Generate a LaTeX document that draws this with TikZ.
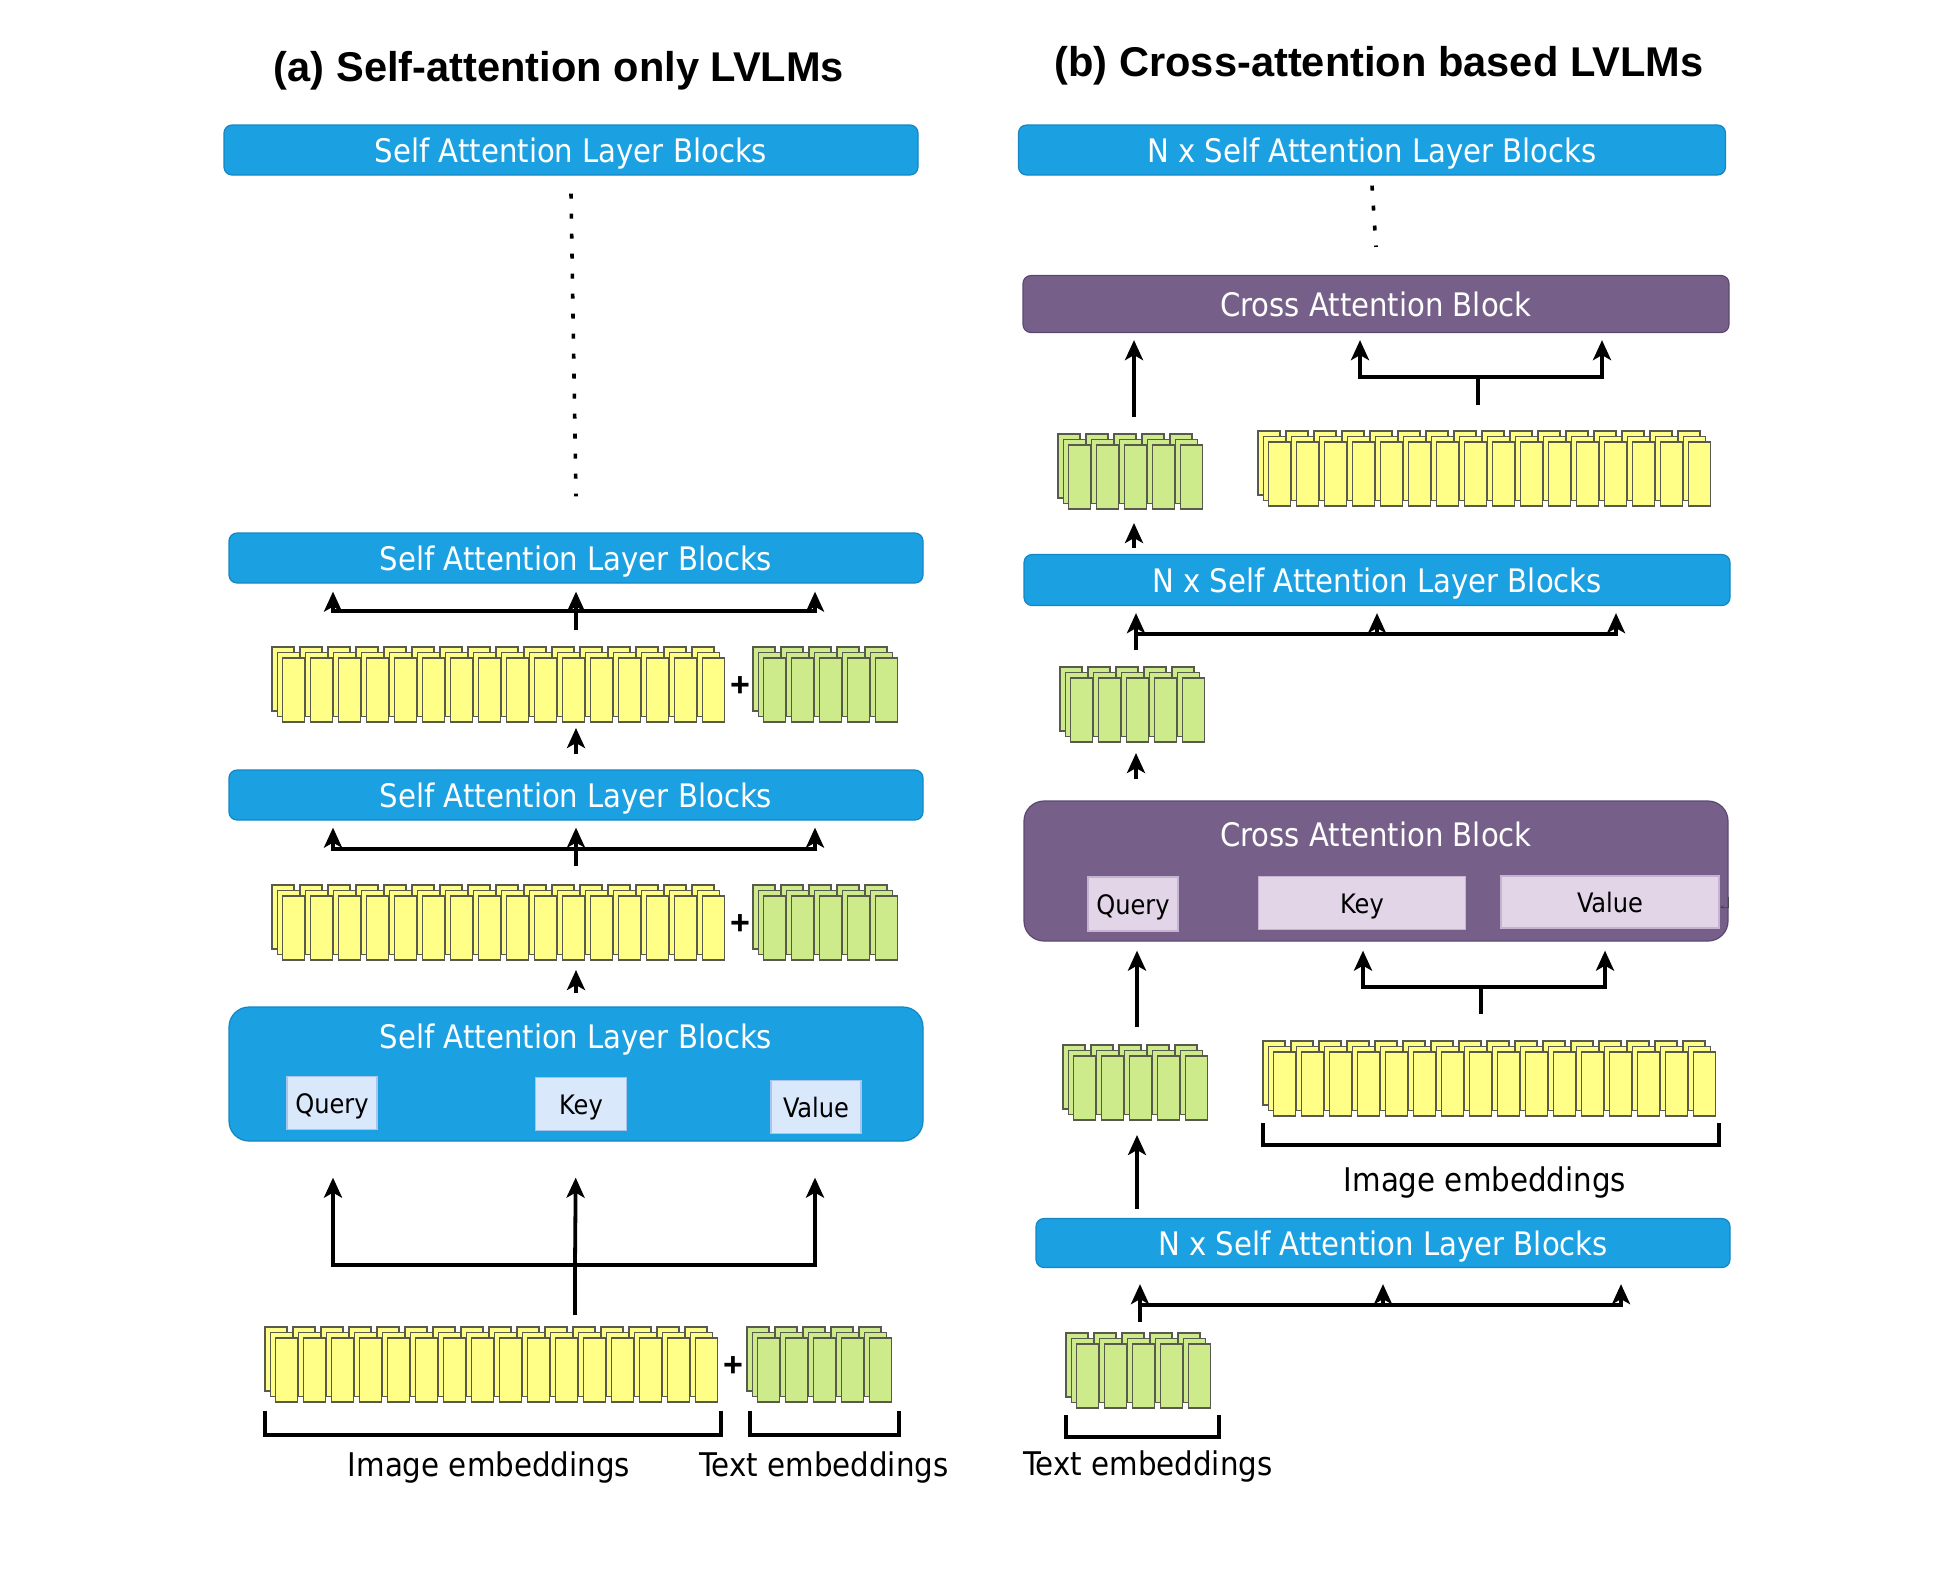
\documentclass[tikz,border=0pt]{standalone}
\usepackage{fontspec}
\setmainfont{DejaVu Sans Condensed}
\newfontfamily\titlefont{Liberation Sans}
\usetikzlibrary{arrows.meta}

\definecolor{sablue}{HTML}{1BA1E2}
\definecolor{sablueline}{HTML}{1486C4}
\definecolor{capurple}{HTML}{76608A}
\definecolor{capurpleline}{HTML}{5B4870}
\definecolor{qkvblue}{HTML}{DAE8FC}
\definecolor{qkvblueline}{HTML}{A9C4EB}
\definecolor{qkvpurple}{HTML}{E1D5E7}
\definecolor{qkvpurpleline}{HTML}{C5B3D1}
\definecolor{tokyellow}{HTML}{FFFF88}
\definecolor{tokgreen}{HTML}{CDEB8B}
\definecolor{tokline}{HTML}{585A4E}

\tikzset{
  sablock/.style={fill=sablue, draw=sablueline, line width=0.6pt, rounded corners=4pt,
    text=white, font=\fontsize{16.2}{19}\selectfont, inner sep=0pt,
    text height=12.4pt, text depth=0pt},
  cablock/.style={sablock, fill=capurple, draw=capurpleline},
  bigblock/.style={rounded corners=10pt},
  blocktext/.style={text=white, font=\fontsize{16.2}{19}\selectfont, inner sep=0pt,
    text height=12.4pt, text depth=0pt},
  qkvbox/.style={fill=qkvblue, draw=qkvblueline, line width=0.6pt, inner sep=0pt,
    font=\fontsize{13.4}{16}\selectfont, minimum height=26.5pt,
    text height=10.2pt, text depth=0pt},
  qkvpbox/.style={qkvbox, fill=qkvpurple, draw=qkvpurpleline},
  stack/.style={inner sep=0pt, outer sep=0pt, minimum height=37.5pt, anchor=north west},
  imgstack/.style={stack, minimum width=226.3pt},
  txtstack/.style={stack, minimum width=72.3pt},
  token/.style={draw=tokline, line width=0.55pt},
  flow/.style={line width=1.9pt, black},
  arrow/.style={flow, -{Stealth[length=10pt,width=9pt,inset=2.5pt]}},
  brace/.style={line width=1.9pt, black},
  dotline/.style={line width=1.8pt, dash pattern=on 2.5pt off 7.5pt},
  plus/.style={font=\titlefont\bfseries\fontsize{17}{19}\selectfont, inner sep=0pt},
  embtext/.style={font=\fontsize{16.3}{19}\selectfont, inner sep=0pt},
  title/.style={font=\titlefont\bfseries\fontsize{20.8}{24}\selectfont, inner sep=0pt},
}

% one row of embedding tokens: three layers per token
\newcommand{\embstack}[3]{%
  \begin{scope}[shift={(#1.north west)}]
    \foreach \layer in {0,1,2} {
      \foreach \k in {1,...,#2} {
        \draw[token, fill=#3] ({28*(\k-1)+5.3*\layer}, {5.5*\layer}) rectangle ++(22,64);
      }
    }
  \end{scope}%
}

\begin{document}
\begin{tikzpicture}[x=0.5pt,y=-0.5pt]
    \useasboundingbox (0,0) rectangle (1948,1592);

    % ---------------- (a) self-attention only ----------------
    \node[title] (titleA) at (559,71) {(a) Self-attention only LVLMs};

    \node[sablock, minimum width=347pt, minimum height=25pt] (saA1) at (571,150) {Self Attention Layer Blocks};
    \node[sablock, minimum width=347pt, minimum height=25pt] (saA2) at (576,558) {Self Attention Layer Blocks};
    \node[sablock, minimum width=347pt, minimum height=25pt] (saA3) at (576,795) {Self Attention Layer Blocks};
    \node[sablock, bigblock, minimum width=347pt, minimum height=67pt] (saA4) at (576,1074) {};
    \node[blocktext] (saA4t) at (576,1036) {Self Attention Layer Blocks};
    \node[qkvbox, minimum width=45pt] (qA) at (332,1103) {Query};
    \node[qkvbox, minimum width=45.5pt] (kA) at (581,1104) {Key};
    \node[qkvbox, minimum width=45pt] (vA) at (816,1107) {Value};

    \draw[dotline] ([yshift=-9pt]saA1.south) -- ([yshift=18pt]saA2.north);

    \coordinate (colAq) at (333,0);
    \coordinate (colAk) at (576,0);
    \coordinate (colAv) at (815,0);

    % rows of embeddings
    \node[imgstack] (imgA1) at (272,647) {};
    \node[txtstack] (txtA1) at (753,647) {};
    \node[plus] (plusA1) at (740,687) {+};
    \embstack{imgA1}{16}{tokyellow}
    \embstack{txtA1}{5}{tokgreen}

    \node[imgstack] (imgA2) at (272,885) {};
    \node[txtstack] (txtA2) at (753,885) {};
    \node[plus] (plusA2) at (740,925) {+};
    \embstack{imgA2}{16}{tokyellow}
    \embstack{txtA2}{5}{tokgreen}

    \node[imgstack] (imgA3) at (265,1327) {};
    \node[txtstack] (txtA3) at (747,1327) {};
    \node[plus] (plusA3) at (733,1367) {+};
    \embstack{imgA3}{16}{tokyellow}
    \embstack{txtA3}{5}{tokgreen}

    % branch into saA2
    \coordinate (hubA1) at (576,611);
    \coordinate (stemA1) at (576,630);
    \draw[flow] (stemA1) -- (hubA1);
    \draw[arrow, shorten >=4pt] (hubA1 -| colAv) -- (hubA1 -| colAq) -- (saA2.south -| colAq);
    \draw[arrow, shorten >=4pt] (hubA1 -| colAq) -- (hubA1 -| colAv) -- (saA2.south -| colAv);
    \draw[arrow, shorten >=4pt] (hubA1) -- (saA2.south -| colAk);
    \draw[arrow, shorten <=7.5pt, shorten >=3pt] (saA3.north) -- (saA3.north |- imgA1.south);

    % branch into saA3
    \coordinate (hubA2) at (576,849);
    \coordinate (stemA2) at (576,866);
    \draw[flow] (stemA2) -- (hubA2);
    \draw[arrow, shorten >=3.5pt] (hubA2 -| colAv) -- (hubA2 -| colAq) -- (saA3.south -| colAq);
    \draw[arrow, shorten >=3.5pt] (hubA2 -| colAq) -- (hubA2 -| colAv) -- (saA3.south -| colAv);
    \draw[arrow, shorten >=3.5pt] (hubA2) -- (saA3.south -| colAk);
    \draw[arrow, shorten <=6.5pt, shorten >=5pt] (saA4.north) -- (saA4.north |- imgA2.south);

    % branch into saA4
    \coordinate (hubA3) at (575,1265);
    \coordinate (stemA3) at (575,1315);
    \draw[flow] (stemA3) -- (hubA3);
    \draw[arrow, shorten >=18pt] (hubA3 -| colAv) -- (hubA3 -| colAq) -- (saA4.south -| colAq);
    \draw[arrow, shorten >=18pt] (hubA3 -| colAq) -- (hubA3 -| colAv) -- (saA4.south -| colAv);
    \draw[arrow, shorten >=18pt] (hubA3) -- (saA4.south -| colAk);

    \draw[brace] ([yshift=-4.5pt]imgA3.south west) -- ++(0,24) -| ([xshift=1.5pt,yshift=-4.5pt]imgA3.south east);
    \draw[brace] ([xshift=1.5pt,yshift=-4.5pt]txtA3.south west) -- ++(0,24) -| ([xshift=3.5pt,yshift=-4.5pt]txtA3.south east);
    \node[embtext] (lblImgA) at (489,1467) {Image embeddings};
    \node[embtext] (lblTxtA) at (824,1467) {Text embeddings};

    % ---------------- (b) cross-attention based ----------------
    \node[title] (titleB) at (1379,66) {(b) Cross-attention based LVLMs};

    \node[sablock, minimum width=353.5pt, minimum height=25pt] (saB1) at (1372,150) {N x Self Attention Layer Blocks};
    \node[cablock, minimum width=353pt, minimum height=28.5pt] (caB1) at (1376,304) {Cross Attention Block};
    \node[sablock, minimum width=353pt, minimum height=25.5pt] (saB2) at (1377,580) {N x Self Attention Layer Blocks};
    \node[cablock, bigblock, minimum width=352pt, minimum height=70pt] (caB2) at (1376,871) {};
    \node[blocktext] (caB2t) at (1376,834) {Cross Attention Block};
    \node[qkvpbox, minimum width=45pt, minimum height=27pt] (qB) at (1133,904) {Query};
    \node[qkvpbox, minimum width=103.5pt] (kB) at (1362,903) {Key};
    \node[qkvpbox, minimum width=109pt, minimum height=26pt] (vB) at (1610,902) {Value};
    \draw[line width=0.5pt, black!70, -{Stealth[length=2pt,width=2pt]}] (1728,897) -- (1728,907) -- (1720,907);
    \node[sablock, minimum width=347pt, minimum height=24.5pt] (saB3) at (1383,1243) {N x Self Attention Layer Blocks};

    \draw[dotline] ([yshift=-5pt]saB1.south) -- ([yshift=14pt]caB1.north);

    \node[txtstack] (txtB1) at (1058,434) {};
    \node[imgstack] (imgB1) at (1258,431) {};
    \embstack{txtB1}{5}{tokgreen}
    \embstack{imgB1}{16}{tokyellow}

    \node[txtstack] (txtB2) at (1060,667) {};
    \embstack{txtB2}{5}{tokgreen}

    \node[txtstack] (txtB3) at (1063,1045) {};
    \node[imgstack] (imgB3) at (1263,1041) {};
    \embstack{txtB3}{5}{tokgreen}
    \embstack{imgB3}{16}{tokyellow}

    \node[txtstack] (txtB4) at (1066,1333) {};
    \embstack{txtB4}{5}{tokgreen}

    % into caB1
    \coordinate (colBq) at (1134,0);
    \coordinate (colBk) at (1360,0);
    \coordinate (colBv) at (1602,0);
    \coordinate (hubB1) at (1478,377);
    \coordinate (stemB1) at (1478,405);
    \draw[arrow, shorten <=8.5pt, shorten >=3.5pt] (txtB1.north -| colBq) -- (caB1.south -| colBq);
    \draw[flow] (stemB1) -- (hubB1);
    \draw[arrow, shorten >=3.5pt] (hubB1 -| colBv) -- (hubB1 -| colBk) -- (caB1.south -| colBk);
    \draw[arrow, shorten >=3.5pt] (hubB1 -| colBk) -- (hubB1 -| colBv) -- (caB1.south -| colBv);
    \draw[arrow, shorten <=3pt, shorten >=7pt] (saB2.north -| colBq) -- (txtB1.south -| colBq);

    % into saB2
    \coordinate (colB2a) at (1136,0);
    \coordinate (colB2b) at (1377,0);
    \coordinate (colB2c) at (1616,0);
    \coordinate (hubB2) at (1136,634);
    \coordinate (stemB2) at (1136,650);
    \draw[arrow, shorten >=3.5pt] (stemB2) -- (saB2.south -| colB2a);
    \draw[arrow, shorten >=3.5pt] (hubB2) -- (hubB2 -| colB2c) -- (saB2.south -| colB2c);
    \draw[arrow, shorten >=3.5pt] (hubB2 -| colB2b) -- (saB2.south -| colB2b);
    \draw[arrow, shorten <=10.5pt, shorten >=5.5pt] (caB2.north -| colB2a) -- (txtB2.south -| colB2a);

    % into caB2
    \coordinate (colB3q) at (1137,0);
    \coordinate (colB3k) at (1363,0);
    \coordinate (colB3v) at (1605,0);
    \coordinate (hubB3) at (1481,987);
    \coordinate (stemB3) at (1481,1014);
    \draw[arrow, shorten <=9pt, shorten >=4.5pt] (txtB3.north -| colB3q) -- (caB2.south -| colB3q);
    \draw[flow] (stemB3) -- (hubB3);
    \draw[arrow, shorten >=4.5pt] (hubB3 -| colB3v) -- (hubB3 -| colB3k) -- (caB2.south -| colB3k);
    \draw[arrow, shorten >=4.5pt] (hubB3 -| colB3k) -- (hubB3 -| colB3v) -- (caB2.south -| colB3v);
    \draw[arrow, shorten <=4.5pt, shorten >=7.5pt] (saB3.north -| colB3q) -- (txtB3.south -| colB3q);
    \draw[brace] ([yshift=-3.5pt]imgB3.south west) -- ++(0,22) -| ([xshift=1.5pt,yshift=-3.5pt]imgB3.south east);
    \node[embtext] (lblImgB) at (1485,1182) {Image embeddings};

    % into saB3
    \coordinate (colB4a) at (1140,0);
    \coordinate (colB4b) at (1383,0);
    \coordinate (colB4c) at (1621,0);
    \coordinate (hubB4) at (1140,1305);
    \coordinate (stemB4) at (1140,1322);
    \draw[arrow, shorten >=8pt] (stemB4) -- (saB3.south -| colB4a);
    \draw[arrow, shorten >=8pt] (hubB4) -- (hubB4 -| colB4c) -- (saB3.south -| colB4c);
    \draw[arrow, shorten >=8pt] (hubB4 -| colB4b) -- (saB3.south -| colB4b);
    \draw[brace] ([yshift=-3.5pt]txtB4.south west) -- ++(0,22) -| ([xshift=4pt,yshift=-3.5pt]txtB4.south east);
    \node[embtext] (lblTxtB) at (1148,1466) {Text embeddings};
\end{tikzpicture}
\end{document}
